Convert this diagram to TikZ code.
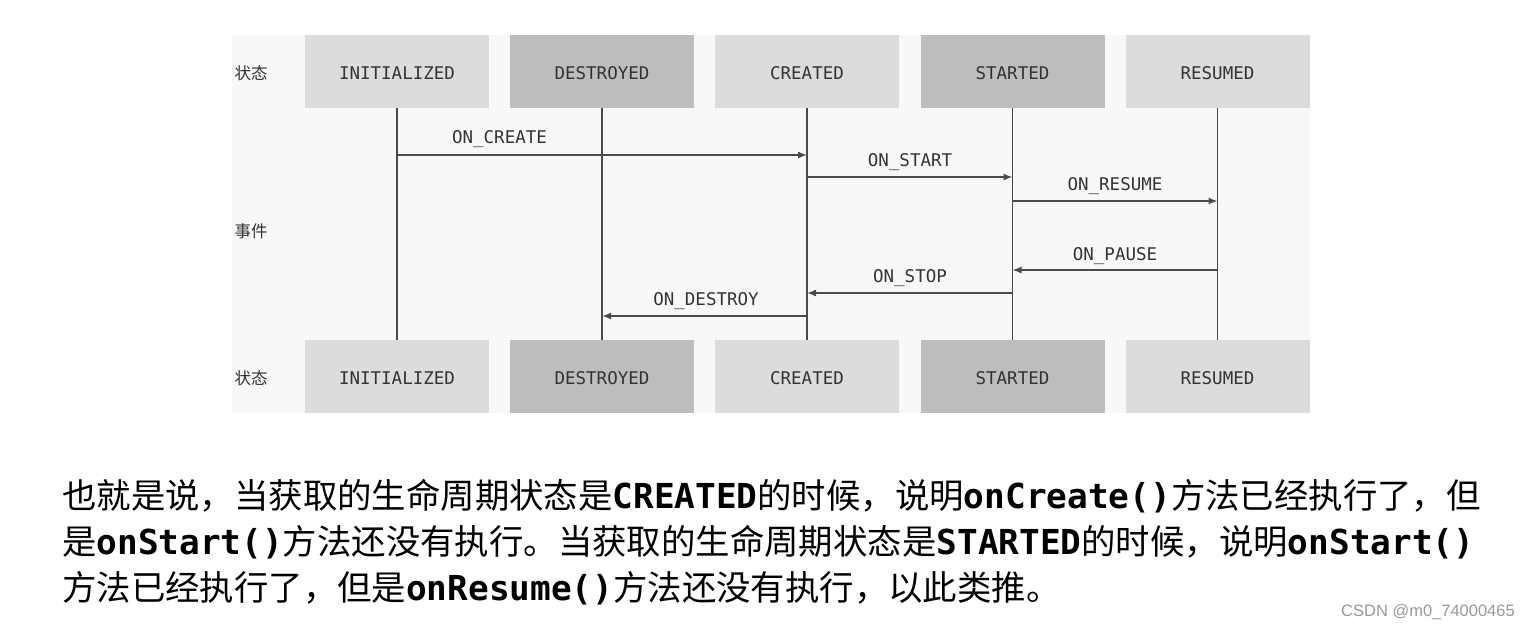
\documentclass[tikz,border=0pt]{standalone}
\usepackage{fontspec}
\usetikzlibrary{arrows.meta}
\newfontfamily\cjk{Noto Sans CJK SC}
\newfontfamily\monof{DejaVu Sans Mono}
\newfontfamily\wmfont{Liberation Sans}
\newcommand{\codeword}[1]{{\monof\bfseries #1}}
\definecolor{lightbox}{HTML}{DCDCDC}
\definecolor{darkbox}{HTML}{BDBDBD}
\definecolor{bgpanel}{HTML}{F8F8F8}
\definecolor{linecol}{HTML}{4A4A4A}
\definecolor{txtcol}{HTML}{333333}
\tikzset{
  statebox/.style={rectangle, minimum width=184pt, minimum height=73pt, inner sep=0pt,
    text height=16pt, text depth=0pt,
    font=\monof\fontsize{17.5}{20}\selectfont, text=txtcol},
  lbox/.style={statebox, fill=lightbox},
  dbox/.style={statebox, fill=darkbox},
  rowlabel/.style={font=\cjk\fontsize{16.5}{20}\selectfont, text=txtcol},
  lifeline/.style={draw=linecol, line width=1.4pt},
  evarrow/.style={draw=linecol, line width=1.4pt, -{Latex[length=9pt,width=7pt]}},
  evlabel/.style={font=\monof\fontsize{17.5}{20}\selectfont, text=txtcol, anchor=center},
  para/.style={anchor=base west, inner sep=0pt, font=\cjk\fontsize{34.4}{40}\selectfont, text=black}
}
\begin{document}
\begin{tikzpicture}[x=1pt,y=-1pt]
\useasboundingbox[fill=white] (0,0) rectangle (1531,629);
\fill[bgpanel] (232,35) rectangle (1310,413);

% top row
\node[rowlabel] (lt) at (251,73) {状态};
\node[lbox] (t1) at (397,71.5) {INITIALIZED};
\node[dbox] (t2) at (602,71.5) {DESTROYED};
\node[lbox] (t3) at (807,71.5) {CREATED};
\node[dbox] (t4) at (1012.5,71.5) {STARTED};
\node[lbox] (t5) at (1217.5,71.5) {RESUMED};

% bottom row
\node[rowlabel] (lb) at (251,378) {状态};
\node[lbox] (b1) at (397,376.5) {INITIALIZED};
\node[dbox] (b2) at (602,376.5) {DESTROYED};
\node[lbox] (b3) at (807,376.5) {CREATED};
\node[dbox] (b4) at (1012.5,376.5) {STARTED};
\node[lbox] (b5) at (1217.5,376.5) {RESUMED};

\node[rowlabel] (le) at (251,231) {事件};

% lifelines
\foreach \i in {1,...,5} {
  \draw[lifeline] (t\i.south) -- (b\i.north);
}

% coordinates on lifelines
\coordinate (c1a) at (t1.south |- 0,155);
\coordinate (c3a) at (t3.south |- 0,155);
\coordinate (c3b) at (t3.south |- 0,177);
\coordinate (c4b) at (t4.south |- 0,177);
\coordinate (c4c) at (t4.south |- 0,201);
\coordinate (c5c) at (t5.south |- 0,201);
\coordinate (c5d) at (t5.south |- 0,270);
\coordinate (c4d) at (t4.south |- 0,270);
\coordinate (c4e) at (t4.south |- 0,293);
\coordinate (c3e) at (t3.south |- 0,293);
\coordinate (c3f) at (t3.south |- 0,316);
\coordinate (c2f) at (t2.south |- 0,316);

\draw[evarrow] (c1a) -- (c3a);
\draw[evarrow] (c3b) -- (c4b);
\draw[evarrow] (c4c) -- (c5c);
\draw[evarrow] (c5d) -- (c4d);
\draw[evarrow] (c4e) -- (c3e);
\draw[evarrow] (c3f) -- (c2f);

\node[evlabel] (e1) at (499.5,139.5) {ON\_CREATE};
\node[evlabel] (e2) at (910,162.5) {ON\_START};
\node[evlabel] (e3) at (1115,186.5) {ON\_RESUME};
\node[evlabel] (e4) at (1115,256.5) {ON\_PAUSE};
\node[evlabel] (e5) at (910,278.5) {ON\_STOP};
\node[evlabel] (e6) at (706,301.5) {ON\_DESTROY};

% paragraph
\node[para] (p1) at (62,508) {也就是说，当获取的生命周期状态是\codeword{CREATED}的时候，说明\codeword{onCreate()}方法已经执行了，但};
\node[para] (p2) at (62,554) {是\codeword{onStart()}方法还没有执行。当获取的生命周期状态是\codeword{STARTED}的时候，说明\codeword{onStart()}};
\node[para] (p3) at (62,600) {方法已经执行了，但是\codeword{onResume()}方法还没有执行，以此类推。};

% watermark
\node[anchor=east, inner sep=0pt, font=\wmfont\fontsize{16.5}{18}\selectfont, text=black!40] (wm) at (1515,612) {CSDN @m0\_74000465};
\end{tikzpicture}
\end{document}
